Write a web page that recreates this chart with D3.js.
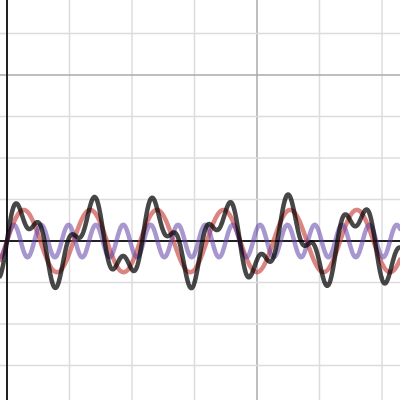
<!DOCTYPE html>
<html><head><meta charset="utf-8">
<script src="https://cdn.jsdelivr.net/npm/d3@7"></script>
<style>html,body{margin:0;padding:0;background:#fff}svg{display:block}</style>
</head><body>
<svg id="c" width="400" height="400"></svg>
<script>
// Curve parameters (graph units)
const seriesNames = ["red", "purple", "black"];
const amplitudes = [0.75, 0.39];      // red, purple
const periods = [1.066, 0.4377];      // red, purple
const colors = ["#c74440", "#6042a6", "#000000"];
const opacities = [0.65, 0.55, 0.72];
const xDomain = [-0.112, 6.288];
const yDomain = [-3.83, 5.807];

const W = 400, H = 400;
const svg = d3.select("#c");
const x = d3.scaleLinear().domain(xDomain).range([0, W]);
const y = d3.scaleLinear().domain(yDomain).range([H, 0]);

const g = svg.append("g");
d3.range(Math.ceil(xDomain[0]), Math.floor(xDomain[1]) + 1).forEach(v => {
  if (v === 0) return;
  g.append("line").attr("x1", x(v)).attr("x2", x(v)).attr("y1", 0).attr("y2", H)
    .attr("stroke", v % 4 === 0 ? "#a8a8a8" : "#dcdcdc").attr("stroke-width", 1.5);
});
d3.range(Math.ceil(yDomain[0]), Math.floor(yDomain[1]) + 1).forEach(v => {
  if (v === 0) return;
  g.append("line").attr("y1", y(v)).attr("y2", y(v)).attr("x1", 0).attr("x2", W)
    .attr("stroke", v % 4 === 0 ? "#a8a8a8" : "#dcdcdc").attr("stroke-width", 1.5);
});
g.append("line").attr("x1", x(0)).attr("x2", x(0)).attr("y1", 0).attr("y2", H).attr("stroke", "#222").attr("stroke-width", 2);
g.append("line").attr("y1", y(0)).attr("y2", y(0)).attr("x1", 0).attr("x2", W).attr("stroke", "#222").attr("stroke-width", 2);

const xs = d3.range(xDomain[0], xDomain[1] + 0.005, 0.005);
const f = [
  t => amplitudes[0] * Math.sin(2 * Math.PI * t / periods[0]),
  t => amplitudes[1] * Math.sin(2 * Math.PI * t / periods[1])
];
f.push(t => f[0](t) + f[1](t));
const line = d3.line().x(d => x(d[0])).y(d => y(d[1])).curve(d3.curveLinear);
seriesNames.forEach((n, i) => {
  svg.append("path").datum(xs.map(t => [t, f[i](t)]))
    .attr("d", line).attr("fill", "none").attr("stroke", colors[i])
    .attr("stroke-opacity", opacities[i]).attr("stroke-width", 4.5)
    .attr("stroke-linejoin", "round").attr("stroke-linecap", "round");
});
</script>
</body></html>
